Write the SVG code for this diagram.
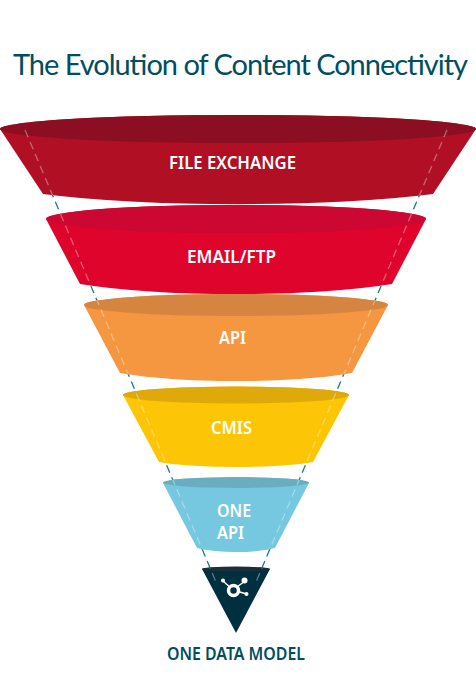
<svg xmlns="http://www.w3.org/2000/svg" width="476" height="680" viewBox="0 0 476 680">
<style>
.t{font-family:"Noto Sans","Liberation Sans",sans-serif;fill:#fff;font-size:18px;font-weight:600;text-anchor:start}
.d{fill:none;stroke-width:1.3;stroke-dasharray:8 5}
</style>
<defs>
<path id="f1" d="M0 129L43 194A260 30 0 0 0 433 194L476 129A238 14 0 0 0 0 129Z"/>
<path id="f2" d="M46 219L80 284A208 30 0 0 0 392 284L426 219A190 14 0 0 0 46 219Z"/>
<path id="f3" d="M84 305L120 373A155 24 0 0 0 352 373L388 305A152 11 0 0 0 84 305Z"/>
<path id="f4" d="M123 395L159 462A103 15 0 0 0 313 462L349 395A113 8.500 0 0 0 123 395Z"/>
<path id="f5" d="M163 483L197 548A52 12 0 0 0 275 548L309 483A73 5.500 0 0 0 163 483Z"/>
<path id="f6" d="M202 569L236 633L270 569A34 2 0 0 0 202 569Z"/>
<clipPath id="all"><use href="#f1"/><use href="#f2"/><use href="#f3"/><use href="#f4"/><use href="#f5"/><use href="#f6"/></clipPath>
</defs>
<text x="13" y="75" font-family="Lato,'Liberation Sans',sans-serif" font-size="29" fill="#004e60" textLength="455" lengthAdjust="spacing">The Evolution of Content Connectivity</text>
<g id="connectors-under">
<path class="d" stroke="#1b7a8c" d="M25 130L216 582M447 130L256 582"/>
</g>
<g id="node-file-exchange">
<use href="#f1" fill="#b10f23"/>
<ellipse cx="238" cy="129" rx="238" ry="14" fill="#8c0e22"/>
<text class="t" x="169" y="169" textLength="127" lengthAdjust="spacingAndGlyphs">FILE EXCHANGE</text>
</g>
<g id="node-email-ftp">
<use href="#f2" fill="#de042b"/>
<ellipse cx="236" cy="219" rx="190" ry="14" fill="#cb0732"/>
<text class="t" x="187" y="263" textLength="89" lengthAdjust="spacingAndGlyphs">EMAIL/FTP</text>
</g>
<g id="node-api">
<use href="#f3" fill="#f59640"/>
<ellipse cx="236" cy="305" rx="152" ry="11" fill="#d68541"/>
<text class="t" x="219" y="344" textLength="27" lengthAdjust="spacingAndGlyphs">API</text>
</g>
<g id="node-cmis">
<use href="#f4" fill="#fcc506"/>
<ellipse cx="236" cy="395" rx="113" ry="8.500" fill="#dfa90a"/>
<text class="t" x="211" y="434" textLength="41" lengthAdjust="spacingAndGlyphs">CMIS</text>
</g>
<g id="node-one-api">
<use href="#f5" fill="#75c8df"/>
<ellipse cx="236" cy="482.500" rx="73" ry="5.500" fill="#69aebf"/>
<text class="t" x="217" y="517" textLength="34" lengthAdjust="spacingAndGlyphs">ONE</text>
<text class="t" x="217" y="539" textLength="27" lengthAdjust="spacingAndGlyphs">API</text>
</g>
<g id="node-one-data-model">
<use href="#f6" fill="#00303f"/>
<ellipse cx="236" cy="569" rx="34" ry="2.500" fill="#1c2f38"/>
<g id="icon" fill="#fff" stroke="#fff">
<path d="M223 581L233 590M245 581L233 590M246.500 594L233 590" stroke-width="1.500" fill="none"/>
<circle cx="233.500" cy="590.500" r="5" fill="#00303f" stroke-width="3.500"/>
<circle cx="223" cy="580.500" r="2" stroke="none"/>
<circle cx="244.500" cy="580.500" r="3" stroke="none"/>
<circle cx="246.500" cy="594" r="2" stroke="none"/>
</g>
<text x="167" y="660" font-family="'Noto Sans','Liberation Sans',sans-serif" font-size="17" font-weight="600" fill="#004e60" textLength="138" lengthAdjust="spacingAndGlyphs">ONE DATA MODEL</text>
</g>
<g id="connectors-over" clip-path="url(#all)">
<path class="d" stroke="#fff" stroke-opacity=".35" d="M25 130L216 582M447 130L256 582"/>
</g>
</svg>
